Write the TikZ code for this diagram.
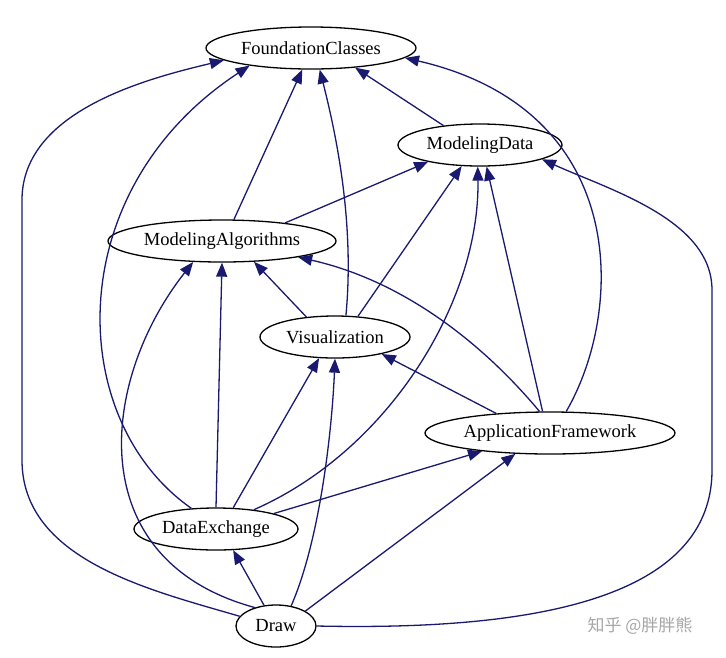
\documentclass[tikz,border=0pt]{standalone}
\usepackage{fontspec}
\setmainfont{Liberation Serif}
\newfontfamily\cjk{Noto Sans CJK SC}
\usetikzlibrary{shapes.geometric,arrows.meta}
\definecolor{edgeblue}{RGB}{25,25,112}
\tikzset{
  nd/.style={ellipse,draw,line width=1.3pt,inner sep=0pt,minimum height=42pt,font=\fontsize{18.5}{20}\selectfont},
  ed/.style={edgeblue,line width=1.3pt,-{Triangle[length=14pt,width=11pt]}}
}
\begin{document}
\begin{tikzpicture}[x=1pt,y=-1pt]
\useasboundingbox (0,0) rectangle (726,657);
\node[nd,minimum width=210pt] (FC) at (311,48) {FoundationClasses};
\node[nd,minimum width=164pt] (MD) at (480,145) {ModelingData};
\node[nd,minimum width=228pt] (MA) at (222,241) {ModelingAlgorithms};
\node[nd,minimum width=150pt] (Vis) at (335,337) {Visualization};
\node[nd,minimum width=250pt] (AF) at (550,433) {ApplicationFramework};
\node[nd,minimum width=164pt] (DE) at (216,529) {DataExchange};
\node[nd,minimum width=80pt] (Dr) at (276,626) {Draw};
% Draw
\draw[ed] (Dr.165) .. controls (150,590) and (22,560) .. (22,460) -- (22,200) .. controls (22,110) and (150,78) .. (FC.-172);
\draw[ed] (Dr.east) .. controls (500,630) and (712,610) .. (712,470) -- (712,290) .. controls (712,220) and (610,190) .. (MD.-13);
\draw[ed] (Dr.120) -- (DE.-51);
\draw[ed] (Dr.139) .. controls (80,560) and (100,380) .. (MA.-144);
\draw[ed] (Dr.27) -- (AF.-149);
\draw[ed] (Dr.53) .. controls (320,540) and (332,430) .. (Vis.south);
% DataExchange
\draw[ed] (DE.140) .. controls (65,420) and (60,190) .. (FC.-164);
\draw[ed] (DE.north) -- (MA.south);
\draw[ed] (DE.51) -- (Vis.-127);
\draw[ed] (DE.27) .. controls (390,450) and (480,300) .. (MD.-96);
\draw[ed] (DE.15) -- (AF.-165);
% ApplicationFramework
\draw[ed] (AF.53) .. controls (625,310) and (630,110) .. (FC.-6);
\draw[ed] (AF.109) -- (MD.-73);
\draw[ed] (AF.160) -- (Vis.-20);
\draw[ed] (AF.116) .. controls (480,340) and (400,280) .. (MA.-12);
% Visualization
\draw[ed] (Vis.63) .. controls (355,220) and (335,130) .. (FC.-68);
\draw[ed] (Vis.145) -- (MA.-33);
\draw[ed] (Vis.42) -- (MD.-131);
% ModelingAlgorithms
\draw[ed] (MA.61) -- (FC.-112);
\draw[ed] (MA.16) -- (MD.-162);
% ModelingData
\draw[ed] (MD.152) -- (FC.-24);
\node[text=gray!70,font=\cjk\fontsize{17}{18}\selectfont] (wm) at (640,626) {知乎 @胖胖熊};
\end{tikzpicture}
\end{document}
